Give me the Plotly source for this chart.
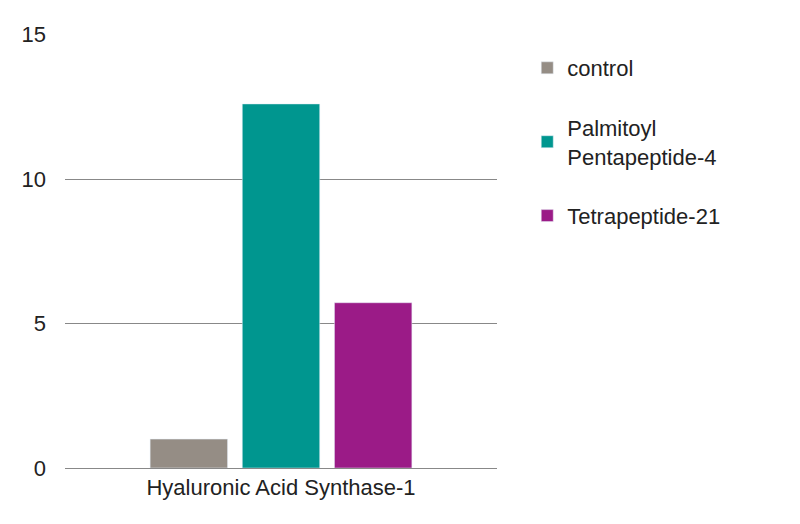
import plotly.graph_objects as go

category = ["Hyaluronic Acid Synthase-1"]
series = ["control", "Palmitoyl<br>Pentapeptide-4", "Tetrapeptide-21"]
values = [[1.0], [12.6], [5.72]]
colors = ["#958d85", "#00968f", "#9b1b87"]

fig = go.Figure()
for i, (name, v, c) in enumerate(zip(series, values, colors)):
    fig.add_trace(go.Bar(x=category, y=v, name=name, marker_color=c, legendgroup=f"g{i}"))

fig.update_layout(
    width=800, height=524, barmode="group", bargap=0.36, bargroupgap=0.16,
    plot_bgcolor="white", paper_bgcolor="white",
    margin=dict(l=57, r=311, t=26, b=64),
    font=dict(family="Liberation Sans, Arial", size=22, color="#222"),
    legend=dict(x=1.07, y=0.97, yanchor="top", font=dict(size=22),
                tracegroupgap=28, itemwidth=30),
    yaxis=dict(range=[0, 15.02], tickvals=[0, 5, 10, 15], showgrid=True,
               gridcolor="#888", gridwidth=1, zeroline=False,
               ticklabelstandoff=18),
    xaxis=dict(showline=True, linecolor="#888", linewidth=1),
)
fig.write_html("out.html")
